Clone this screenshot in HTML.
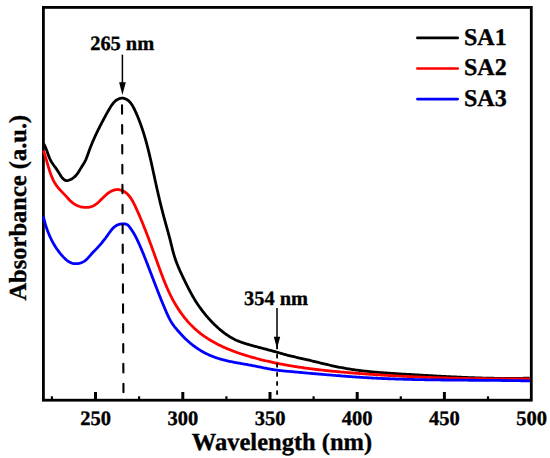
<!DOCTYPE html>
<html><head><meta charset="utf-8"><style>
html,body{margin:0;padding:0;background:#fff;}
svg{display:block;}
text{font-family:"Liberation Serif",serif;font-weight:bold;fill:#000;stroke:#000;stroke-width:0.35px;text-rendering:geometricPrecision;}
</style></head><body>
<svg width="550" height="458" viewBox="0 0 550 458">
<rect x="0" y="0" width="550" height="458" fill="#fff"/>
<!-- frame -->
<rect x="43.4" y="7.4" width="487.9" height="392.8" fill="none" stroke="#000" stroke-width="2.8"/>
<!-- curves -->
<path d="M43.40,143.50 L44.02,144.50 L44.60,145.53 L45.13,146.60 L45.62,147.69 L46.09,148.81 L46.53,149.95 L46.96,151.10 L47.38,152.27 L47.79,153.43 L48.20,154.59 L48.63,155.75 L49.07,156.90 L49.53,158.03 L50.02,159.14 L50.54,160.22 L51.11,161.27 L51.71,162.30 L52.35,163.30 L53.02,164.28 L53.71,165.25 L54.41,166.21 L55.12,167.17 L55.83,168.14 L56.53,169.13 L57.22,170.13 L57.89,171.15 L58.54,172.21 L59.17,173.27 L59.81,174.33 L60.46,175.38 L61.14,176.40 L61.85,177.37 L62.62,178.28 L63.46,179.11 L64.37,179.85 L65.37,180.40 L66.46,180.64 L67.62,180.54 L68.80,180.23 L69.95,179.80 L71.07,179.27 L72.14,178.66 L73.16,177.98 L74.12,177.23 L75.03,176.41 L75.86,175.54 L76.63,174.63 L77.36,173.68 L78.04,172.69 L78.69,171.69 L79.33,170.67 L79.96,169.64 L80.59,168.61 L81.23,167.59 L81.89,166.57 L82.54,165.55 L83.18,164.52 L83.80,163.49 L84.41,162.44 L84.97,161.38 L85.51,160.31 L86.00,159.21 L86.47,158.11 L86.91,156.99 L87.33,155.86 L87.74,154.73 L88.15,153.59 L88.54,152.45 L88.94,151.30 L89.35,150.17 L89.77,149.03 L90.20,147.90 L90.63,146.77 L91.07,145.65 L91.53,144.53 L91.98,143.41 L92.45,142.29 L92.93,141.18 L93.41,140.07 L93.90,138.97 L94.39,137.86 L94.89,136.76 L95.40,135.67 L95.91,134.57 L96.43,133.48 L96.95,132.39 L97.48,131.30 L98.01,130.22 L98.55,129.14 L99.09,128.06 L99.63,126.98 L100.18,125.90 L100.73,124.83 L101.28,123.76 L101.84,122.69 L102.39,121.62 L102.95,120.56 L103.51,119.50 L104.08,118.43 L104.64,117.37 L105.21,116.32 L105.79,115.26 L106.37,114.20 L106.95,113.15 L107.54,112.10 L108.14,111.05 L108.75,110.00 L109.37,108.95 L110.00,107.90 L110.64,106.86 L111.31,105.83 L111.99,104.82 L112.71,103.84 L113.47,102.90 L114.28,102.02 L115.14,101.19 L116.06,100.44 L117.04,99.77 L118.10,99.19 L119.23,98.71 L120.42,98.37 L121.63,98.20 L122.85,98.22 L124.06,98.43 L125.24,98.80 L126.37,99.31 L127.42,99.93 L128.40,100.65 L129.29,101.44 L130.12,102.31 L130.88,103.24 L131.59,104.22 L132.24,105.25 L132.86,106.31 L133.45,107.40 L134.01,108.50 L134.55,109.61 L135.08,110.72 L135.60,111.83 L136.10,112.94 L136.60,114.06 L137.08,115.18 L137.56,116.29 L138.02,117.41 L138.47,118.53 L138.92,119.66 L139.35,120.78 L139.78,121.91 L140.20,123.04 L140.61,124.17 L141.02,125.30 L141.42,126.44 L141.81,127.58 L142.20,128.72 L142.57,129.86 L142.95,131.00 L143.31,132.15 L143.68,133.30 L144.03,134.45 L144.38,135.60 L144.72,136.75 L145.06,137.91 L145.40,139.07 L145.73,140.23 L146.05,141.39 L146.37,142.55 L146.69,143.71 L147.00,144.88 L147.30,146.04 L147.61,147.21 L147.91,148.38 L148.20,149.55 L148.49,150.72 L148.78,151.89 L149.07,153.06 L149.35,154.24 L149.63,155.41 L149.90,156.59 L150.18,157.76 L150.45,158.94 L150.72,160.12 L150.99,161.30 L151.25,162.48 L151.52,163.66 L151.78,164.84 L152.04,166.02 L152.30,167.20 L152.56,168.38 L152.81,169.56 L153.07,170.74 L153.32,171.92 L153.58,173.11 L153.84,174.29 L154.09,175.47 L154.34,176.65 L154.60,177.83 L154.85,179.02 L155.11,180.20 L155.37,181.38 L155.62,182.56 L155.88,183.74 L156.14,184.92 L156.40,186.10 L156.66,187.28 L156.93,188.46 L157.19,189.63 L157.46,190.81 L157.73,191.99 L158.00,193.16 L158.27,194.34 L158.54,195.51 L158.82,196.69 L159.09,197.86 L159.37,199.04 L159.65,200.21 L159.93,201.38 L160.22,202.55 L160.50,203.72 L160.79,204.89 L161.08,206.06 L161.37,207.23 L161.67,208.40 L161.96,209.57 L162.26,210.74 L162.56,211.91 L162.86,213.08 L163.17,214.24 L163.47,215.41 L163.78,216.57 L164.09,217.74 L164.40,218.90 L164.72,220.07 L165.04,221.23 L165.35,222.40 L165.68,223.56 L166.00,224.72 L166.32,225.89 L166.65,227.05 L166.97,228.21 L167.30,229.38 L167.62,230.54 L167.95,231.70 L168.27,232.87 L168.59,234.04 L168.90,235.20 L169.21,236.37 L169.52,237.54 L169.83,238.71 L170.13,239.88 L170.42,241.06 L170.71,242.23 L171.00,243.41 L171.29,244.58 L171.57,245.76 L171.86,246.94 L172.15,248.11 L172.45,249.28 L172.75,250.45 L173.05,251.62 L173.37,252.79 L173.69,253.95 L174.03,255.11 L174.37,256.26 L174.73,257.41 L175.11,258.56 L175.50,259.70 L175.90,260.83 L176.31,261.96 L176.74,263.09 L177.18,264.21 L177.63,265.32 L178.09,266.44 L178.55,267.55 L179.03,268.66 L179.52,269.76 L180.01,270.86 L180.51,271.96 L181.01,273.06 L181.52,274.16 L182.04,275.25 L182.56,276.34 L183.08,277.44 L183.61,278.53 L184.13,279.62 L184.66,280.71 L185.19,281.80 L185.72,282.88 L186.26,283.97 L186.79,285.06 L187.33,286.14 L187.88,287.22 L188.43,288.30 L188.98,289.38 L189.54,290.45 L190.10,291.52 L190.67,292.58 L191.25,293.64 L191.83,294.70 L192.42,295.75 L193.02,296.80 L193.63,297.84 L194.25,298.88 L194.87,299.91 L195.51,300.93 L196.15,301.95 L196.81,302.96 L197.47,303.97 L198.14,304.97 L198.82,305.96 L199.51,306.95 L200.21,307.93 L200.92,308.90 L201.64,309.87 L202.36,310.83 L203.10,311.79 L203.84,312.73 L204.59,313.67 L205.35,314.61 L206.12,315.53 L206.90,316.45 L207.69,317.37 L208.49,318.27 L209.30,319.17 L210.11,320.06 L210.94,320.94 L211.77,321.82 L212.61,322.69 L213.46,323.55 L214.32,324.40 L215.19,325.24 L216.07,326.08 L216.96,326.90 L217.86,327.72 L218.76,328.53 L219.68,329.32 L220.60,330.11 L221.54,330.88 L222.48,331.63 L223.44,332.38 L224.40,333.10 L225.38,333.82 L226.36,334.51 L227.36,335.19 L228.37,335.85 L229.38,336.50 L230.41,337.12 L231.45,337.72 L232.50,338.31 L233.57,338.87 L234.64,339.41 L235.72,339.92 L236.82,340.42 L237.93,340.89 L239.04,341.35 L240.17,341.78 L241.30,342.20 L242.44,342.61 L243.58,343.00 L244.73,343.37 L245.89,343.74 L247.05,344.09 L248.21,344.44 L249.38,344.78 L250.55,345.11 L251.72,345.43 L252.88,345.75 L254.05,346.07 L255.22,346.39 L256.39,346.70 L257.56,347.01 L258.73,347.32 L259.90,347.63 L261.06,347.94 L262.23,348.25 L263.40,348.55 L264.56,348.86 L265.73,349.17 L266.90,349.47 L268.06,349.78 L269.23,350.09 L270.39,350.40 L271.55,350.72 L272.72,351.04 L273.88,351.35 L275.04,351.68 L276.21,352.00 L277.37,352.33 L278.53,352.67 L279.69,353.00 L280.85,353.34 L282.01,353.68 L283.17,354.01 L284.33,354.34 L285.50,354.67 L286.66,354.99 L287.83,355.30 L289.00,355.61 L290.17,355.90 L291.34,356.19 L292.51,356.46 L293.69,356.73 L294.86,356.99 L296.04,357.25 L297.22,357.51 L298.39,357.76 L299.57,358.02 L300.75,358.28 L301.92,358.55 L303.10,358.81 L304.28,359.08 L305.45,359.36 L306.63,359.63 L307.80,359.91 L308.98,360.19 L310.15,360.47 L311.33,360.76 L312.50,361.04 L313.67,361.33 L314.85,361.61 L316.02,361.90 L317.20,362.19 L318.37,362.47 L319.54,362.76 L320.72,363.04 L321.89,363.33 L323.07,363.61 L324.24,363.89 L325.42,364.17 L326.60,364.45 L327.77,364.72 L328.95,364.99 L330.13,365.26 L331.30,365.53 L332.48,365.79 L333.66,366.05 L334.84,366.30 L336.02,366.55 L337.20,366.80 L338.39,367.04 L339.57,367.27 L340.75,367.50 L341.94,367.73 L343.12,367.95 L344.31,368.16 L345.50,368.37 L346.69,368.57 L347.88,368.77 L349.07,368.96 L350.26,369.15 L351.45,369.33 L352.64,369.51 L353.83,369.68 L355.03,369.85 L356.22,370.02 L357.41,370.18 L358.61,370.34 L359.81,370.49 L361.00,370.64 L362.20,370.78 L363.40,370.92 L364.60,371.06 L365.80,371.20 L366.99,371.33 L368.19,371.45 L369.40,371.58 L370.60,371.70 L371.80,371.81 L373.00,371.93 L374.20,372.04 L375.40,372.15 L376.61,372.25 L377.81,372.36 L379.01,372.46 L380.22,372.56 L381.42,372.65 L382.63,372.75 L383.83,372.84 L385.04,372.93 L386.24,373.02 L387.45,373.10 L388.65,373.19 L389.86,373.27 L391.07,373.35 L392.27,373.43 L393.48,373.51 L394.69,373.58 L395.89,373.66 L397.10,373.74 L398.31,373.81 L399.51,373.88 L400.72,373.95 L401.93,374.03 L403.13,374.10 L404.34,374.17 L405.55,374.24 L406.76,374.31 L407.96,374.38 L409.17,374.45 L410.38,374.52 L411.58,374.59 L412.79,374.66 L413.99,374.73 L415.20,374.80 L416.41,374.87 L417.61,374.94 L418.82,375.01 L420.02,375.08 L421.23,375.15 L422.43,375.21 L423.64,375.28 L424.85,375.35 L426.05,375.42 L427.26,375.49 L428.46,375.56 L429.67,375.63 L430.87,375.70 L432.08,375.76 L433.28,375.83 L434.49,375.90 L435.69,375.96 L436.89,376.03 L438.10,376.10 L439.30,376.16 L440.51,376.23 L441.71,376.29 L442.92,376.36 L444.12,376.42 L445.33,376.48 L446.53,376.54 L447.73,376.61 L448.94,376.67 L450.14,376.73 L451.35,376.79 L452.55,376.85 L453.76,376.90 L454.96,376.96 L456.17,377.02 L457.37,377.07 L458.57,377.13 L459.78,377.18 L460.98,377.24 L462.19,377.29 L463.39,377.34 L464.60,377.39 L465.80,377.44 L467.01,377.49 L468.21,377.54 L469.42,377.59 L470.62,377.63 L471.82,377.68 L473.03,377.72 L474.23,377.76 L475.44,377.80 L476.64,377.84 L477.85,377.88 L479.06,377.92 L480.26,377.96 L481.47,377.99 L482.67,378.03 L483.88,378.06 L485.08,378.09 L486.29,378.12 L487.49,378.15 L488.70,378.18 L489.91,378.20 L491.11,378.23 L492.32,378.25 L493.53,378.27 L494.73,378.29 L495.94,378.31 L497.15,378.33 L498.35,378.35 L499.56,378.36 L500.77,378.37 L501.97,378.38 L503.18,378.39 L504.39,378.40 L505.60,378.40 L506.80,378.41 L508.01,378.41 L509.22,378.41 L510.43,378.41 L511.64,378.41 L512.85,378.40 L514.06,378.39 L515.26,378.39 L516.47,378.38 L517.68,378.36 L518.89,378.35 L520.10,378.33 L521.31,378.31 L522.52,378.29 L523.73,378.27 L524.94,378.25 L526.16,378.22 L527.37,378.19 L528.58,378.16 L529.79,378.13" fill="none" stroke="#000" stroke-width="2.8" stroke-linejoin="round" stroke-linecap="butt"/>
<path d="M43.37,150.52 L43.73,151.47 L44.07,152.43 L44.41,153.39 L44.73,154.37 L45.04,155.35 L45.35,156.33 L45.65,157.32 L45.95,158.32 L46.24,159.32 L46.53,160.32 L46.81,161.33 L47.10,162.34 L47.38,163.35 L47.67,164.36 L47.96,165.37 L48.25,166.38 L48.54,167.39 L48.84,168.40 L49.15,169.40 L49.46,170.40 L49.78,171.39 L50.11,172.38 L50.45,173.37 L50.81,174.35 L51.17,175.32 L51.55,176.28 L51.95,177.23 L52.36,178.18 L52.79,179.11 L53.23,180.04 L53.70,180.95 L54.18,181.85 L54.69,182.74 L55.21,183.61 L55.77,184.47 L56.34,185.32 L56.94,186.15 L57.57,186.96 L58.22,187.76 L58.88,188.55 L59.57,189.33 L60.26,190.10 L60.97,190.86 L61.69,191.62 L62.41,192.38 L63.13,193.13 L63.86,193.88 L64.58,194.64 L65.30,195.40 L66.01,196.16 L66.71,196.93 L67.40,197.70 L68.10,198.46 L68.79,199.22 L69.50,199.97 L70.23,200.70 L70.97,201.41 L71.74,202.10 L72.55,202.75 L73.39,203.36 L74.26,203.94 L75.17,204.48 L76.10,204.98 L77.06,205.43 L78.05,205.84 L79.05,206.21 L80.06,206.53 L81.09,206.80 L82.13,207.03 L83.17,207.20 L84.21,207.32 L85.26,207.39 L86.29,207.41 L87.32,207.37 L88.34,207.28 L89.34,207.13 L90.33,206.91 L91.29,206.64 L92.23,206.31 L93.14,205.91 L94.02,205.46 L94.88,204.95 L95.72,204.39 L96.54,203.79 L97.34,203.15 L98.13,202.48 L98.91,201.78 L99.69,201.05 L100.45,200.31 L101.22,199.55 L101.98,198.79 L102.75,198.02 L103.52,197.26 L104.30,196.50 L105.09,195.75 L105.89,195.02 L106.71,194.32 L107.55,193.64 L108.41,192.99 L109.29,192.38 L110.19,191.82 L111.11,191.30 L112.04,190.84 L112.99,190.43 L113.95,190.10 L114.92,189.83 L115.90,189.64 L116.88,189.54 L117.86,189.52 L118.85,189.59 L119.83,189.77 L120.80,190.02 L121.76,190.36 L122.70,190.77 L123.61,191.24 L124.48,191.76 L125.32,192.33 L126.12,192.94 L126.89,193.59 L127.62,194.27 L128.31,194.99 L128.98,195.74 L129.62,196.52 L130.23,197.33 L130.82,198.16 L131.38,199.02 L131.92,199.90 L132.45,200.80 L132.96,201.71 L133.45,202.63 L133.93,203.57 L134.39,204.52 L134.85,205.47 L135.30,206.43 L135.75,207.39 L136.19,208.36 L136.63,209.32 L137.06,210.28 L137.49,211.25 L137.92,212.21 L138.35,213.17 L138.77,214.14 L139.19,215.10 L139.61,216.07 L140.02,217.03 L140.43,218.00 L140.84,218.96 L141.24,219.93 L141.64,220.89 L142.04,221.86 L142.44,222.82 L142.83,223.79 L143.23,224.76 L143.61,225.72 L144.00,226.69 L144.39,227.66 L144.77,228.62 L145.15,229.59 L145.53,230.56 L145.91,231.52 L146.28,232.49 L146.66,233.46 L147.03,234.43 L147.40,235.40 L147.77,236.36 L148.13,237.33 L148.50,238.30 L148.86,239.27 L149.22,240.24 L149.59,241.21 L149.95,242.17 L150.30,243.14 L150.66,244.11 L151.02,245.08 L151.37,246.05 L151.73,247.02 L152.08,247.99 L152.44,248.96 L152.79,249.93 L153.14,250.90 L153.49,251.86 L153.84,252.83 L154.19,253.80 L154.54,254.77 L154.89,255.74 L155.24,256.71 L155.59,257.68 L155.94,258.65 L156.29,259.62 L156.64,260.59 L156.99,261.56 L157.33,262.53 L157.68,263.50 L158.03,264.47 L158.38,265.43 L158.73,266.40 L159.08,267.37 L159.43,268.34 L159.79,269.31 L160.14,270.28 L160.50,271.25 L160.85,272.21 L161.21,273.18 L161.57,274.15 L161.93,275.11 L162.30,276.08 L162.67,277.04 L163.04,278.00 L163.41,278.97 L163.79,279.93 L164.17,280.89 L164.55,281.84 L164.94,282.80 L165.33,283.76 L165.73,284.71 L166.13,285.66 L166.53,286.62 L166.94,287.57 L167.36,288.51 L167.78,289.46 L168.20,290.40 L168.63,291.34 L169.07,292.28 L169.51,293.22 L169.96,294.16 L170.42,295.09 L170.88,296.02 L171.35,296.95 L171.83,297.88 L172.31,298.80 L172.80,299.72 L173.30,300.64 L173.81,301.56 L174.32,302.47 L174.85,303.38 L175.38,304.28 L175.91,305.18 L176.46,306.08 L177.01,306.97 L177.57,307.86 L178.14,308.75 L178.72,309.63 L179.30,310.50 L179.89,311.37 L180.49,312.23 L181.10,313.09 L181.71,313.94 L182.33,314.79 L182.96,315.62 L183.60,316.46 L184.24,317.28 L184.89,318.10 L185.55,318.91 L186.22,319.72 L186.89,320.51 L187.58,321.30 L188.26,322.08 L188.96,322.85 L189.67,323.62 L190.38,324.37 L191.10,325.12 L191.82,325.85 L192.56,326.58 L193.30,327.30 L194.05,328.00 L194.80,328.70 L195.57,329.39 L196.34,330.07 L197.11,330.74 L197.90,331.40 L198.69,332.05 L199.48,332.69 L200.29,333.32 L201.10,333.94 L201.92,334.56 L202.74,335.16 L203.57,335.76 L204.40,336.35 L205.24,336.93 L206.09,337.50 L206.94,338.07 L207.80,338.62 L208.66,339.17 L209.53,339.71 L210.41,340.24 L211.29,340.77 L212.17,341.28 L213.06,341.79 L213.96,342.30 L214.85,342.79 L215.76,343.28 L216.67,343.76 L217.58,344.23 L218.50,344.70 L219.42,345.15 L220.34,345.61 L221.27,346.05 L222.21,346.49 L223.14,346.92 L224.09,347.35 L225.03,347.77 L225.98,348.18 L226.93,348.59 L227.88,348.99 L228.84,349.39 L229.80,349.78 L230.77,350.16 L231.73,350.54 L232.70,350.91 L233.68,351.28 L234.65,351.64 L235.63,352.00 L236.61,352.35 L237.59,352.70 L238.58,353.04 L239.56,353.38 L240.55,353.71 L241.54,354.04 L242.53,354.37 L243.53,354.68 L244.52,355.00 L245.52,355.31 L246.51,355.62 L247.51,355.92 L248.51,356.22 L249.51,356.51 L250.52,356.80 L251.52,357.09 L252.52,357.37 L253.53,357.65 L254.53,357.93 L255.54,358.20 L256.54,358.48 L257.55,358.74 L258.55,359.01 L259.56,359.27 L260.57,359.52 L261.58,359.78 L262.59,360.03 L263.60,360.27 L264.61,360.52 L265.62,360.76 L266.63,361.00 L267.64,361.23 L268.65,361.46 L269.66,361.69 L270.68,361.92 L271.69,362.14 L272.71,362.36 L273.72,362.58 L274.73,362.79 L275.75,363.01 L276.77,363.21 L277.78,363.42 L278.80,363.62 L279.82,363.82 L280.83,364.02 L281.85,364.22 L282.87,364.41 L283.89,364.60 L284.91,364.79 L285.93,364.97 L286.95,365.16 L287.97,365.34 L288.99,365.51 L290.01,365.69 L291.03,365.86 L292.05,366.03 L293.08,366.20 L294.10,366.37 L295.12,366.53 L296.15,366.69 L297.17,366.85 L298.19,367.01 L299.22,367.16 L300.24,367.32 L301.27,367.47 L302.29,367.62 L303.32,367.76 L304.35,367.91 L305.37,368.05 L306.40,368.19 L307.43,368.33 L308.45,368.47 L309.48,368.60 L310.51,368.74 L311.54,368.87 L312.56,369.00 L313.59,369.12 L314.62,369.25 L315.65,369.38 L316.68,369.50 L317.71,369.62 L318.74,369.74 L319.77,369.86 L320.80,369.97 L321.83,370.09 L322.86,370.20 L323.89,370.32 L324.92,370.43 L325.95,370.54 L326.98,370.64 L328.01,370.75 L329.04,370.86 L330.08,370.96 L331.11,371.06 L332.14,371.17 L333.17,371.27 L334.20,371.37 L335.24,371.46 L336.27,371.56 L337.30,371.66 L338.33,371.75 L339.37,371.85 L340.40,371.94 L341.43,372.03 L342.47,372.12 L343.50,372.21 L344.53,372.30 L345.57,372.39 L346.60,372.48 L347.63,372.57 L348.67,372.65 L349.70,372.74 L350.73,372.82 L351.77,372.91 L352.80,372.99 L353.83,373.07 L354.87,373.16 L355.90,373.24 L356.93,373.32 L357.97,373.40 L359.00,373.48 L360.04,373.56 L361.07,373.63 L362.10,373.71 L363.14,373.79 L364.17,373.87 L365.21,373.94 L366.24,374.02 L367.27,374.09 L368.31,374.16 L369.34,374.24 L370.38,374.31 L371.41,374.38 L372.45,374.45 L373.48,374.52 L374.51,374.59 L375.55,374.66 L376.58,374.73 L377.62,374.80 L378.65,374.87 L379.69,374.93 L380.72,375.00 L381.76,375.06 L382.79,375.13 L383.83,375.19 L384.86,375.26 L385.90,375.32 L386.93,375.38 L387.97,375.44 L389.00,375.50 L390.04,375.56 L391.07,375.62 L392.11,375.68 L393.14,375.74 L394.18,375.80 L395.21,375.86 L396.25,375.91 L397.28,375.97 L398.32,376.03 L399.35,376.08 L400.39,376.14 L401.42,376.19 L402.46,376.24 L403.49,376.30 L404.53,376.35 L405.56,376.40 L406.60,376.45 L407.63,376.50 L408.67,376.55 L409.70,376.60 L410.74,376.65 L411.78,376.70 L412.81,376.74 L413.85,376.79 L414.88,376.84 L415.92,376.88 L416.95,376.93 L417.99,376.97 L419.03,377.02 L420.06,377.06 L421.10,377.10 L422.13,377.15 L423.17,377.19 L424.20,377.23 L425.24,377.27 L426.28,377.31 L427.31,377.35 L428.35,377.39 L429.38,377.43 L430.42,377.47 L431.46,377.50 L432.49,377.54 L433.53,377.58 L434.56,377.61 L435.60,377.65 L436.64,377.68 L437.67,377.72 L438.71,377.75 L439.75,377.78 L440.78,377.82 L441.82,377.85 L442.85,377.88 L443.89,377.91 L444.93,377.94 L445.96,377.97 L447.00,378.00 L448.04,378.03 L449.07,378.06 L450.11,378.09 L451.15,378.12 L452.18,378.15 L453.22,378.17 L454.26,378.20 L455.29,378.22 L456.33,378.25 L457.37,378.27 L458.40,378.30 L459.44,378.32 L460.48,378.35 L461.51,378.37 L462.55,378.39 L463.59,378.41 L464.62,378.43 L465.66,378.45 L466.70,378.47 L467.73,378.49 L468.77,378.51 L469.81,378.53 L470.84,378.55 L471.88,378.57 L472.92,378.59 L473.95,378.60 L474.99,378.62 L476.03,378.64 L477.06,378.65 L478.10,378.67 L479.14,378.68 L480.18,378.70 L481.21,378.71 L482.25,378.73 L483.29,378.74 L484.32,378.75 L485.36,378.76 L486.40,378.78 L487.44,378.79 L488.47,378.80 L489.51,378.81 L490.55,378.82 L491.58,378.83 L492.62,378.84 L493.66,378.85 L494.70,378.85 L495.73,378.86 L496.77,378.87 L497.81,378.88 L498.84,378.88 L499.88,378.89 L500.92,378.90 L501.96,378.90 L502.99,378.91 L504.03,378.91 L505.07,378.91 L506.11,378.92 L507.14,378.92 L508.18,378.92 L509.22,378.93 L510.26,378.93 L511.29,378.93 L512.33,378.93 L513.37,378.93 L514.41,378.93 L515.44,378.93 L516.48,378.93 L517.52,378.93 L518.56,378.93 L519.59,378.93 L520.63,378.93 L521.67,378.93 L522.71,378.93 L523.74,378.92 L524.78,378.92 L525.82,378.92 L526.86,378.91 L527.89,378.91 L528.93,378.90 L529.97,378.90" fill="none" stroke="#ff0000" stroke-width="2.8" stroke-linejoin="round" stroke-linecap="butt"/>
<path d="M43.39,216.51 L43.61,217.49 L43.84,218.48 L44.08,219.46 L44.33,220.45 L44.58,221.43 L44.85,222.41 L45.13,223.39 L45.42,224.37 L45.72,225.35 L46.02,226.32 L46.34,227.29 L46.67,228.26 L47.00,229.23 L47.35,230.19 L47.71,231.15 L48.07,232.11 L48.45,233.06 L48.84,234.01 L49.24,234.95 L49.65,235.89 L50.06,236.82 L50.49,237.75 L50.93,238.68 L51.39,239.59 L51.85,240.51 L52.32,241.41 L52.80,242.31 L53.30,243.20 L53.80,244.09 L54.32,244.97 L54.85,245.84 L55.38,246.70 L55.93,247.55 L56.49,248.40 L57.07,249.24 L57.65,250.07 L58.25,250.89 L58.85,251.70 L59.47,252.51 L60.11,253.30 L60.75,254.09 L61.41,254.86 L62.09,255.63 L62.78,256.39 L63.48,257.15 L64.20,257.89 L64.94,258.62 L65.69,259.32 L66.47,260.00 L67.28,260.64 L68.11,261.24 L68.97,261.78 L69.86,262.27 L70.79,262.68 L71.75,263.03 L72.74,263.31 L73.74,263.52 L74.76,263.66 L75.79,263.72 L76.83,263.70 L77.86,263.61 L78.88,263.44 L79.89,263.20 L80.88,262.90 L81.85,262.53 L82.78,262.10 L83.68,261.61 L84.55,261.06 L85.36,260.46 L86.14,259.81 L86.89,259.13 L87.61,258.41 L88.31,257.66 L88.99,256.90 L89.66,256.13 L90.33,255.35 L91.01,254.57 L91.69,253.80 L92.38,253.05 L93.09,252.31 L93.81,251.57 L94.53,250.85 L95.24,250.12 L95.95,249.39 L96.66,248.65 L97.35,247.91 L98.04,247.16 L98.72,246.40 L99.39,245.64 L100.06,244.88 L100.72,244.11 L101.37,243.33 L102.01,242.54 L102.65,241.76 L103.29,240.96 L103.92,240.16 L104.54,239.36 L105.16,238.54 L105.78,237.73 L106.38,236.90 L106.99,236.08 L107.59,235.24 L108.19,234.40 L108.78,233.56 L109.38,232.71 L109.98,231.88 L110.59,231.05 L111.22,230.24 L111.86,229.46 L112.53,228.70 L113.22,227.98 L113.95,227.30 L114.72,226.66 L115.52,226.07 L116.37,225.55 L117.27,225.08 L118.22,224.68 L119.22,224.36 L120.24,224.10 L121.29,223.92 L122.34,223.82 L123.38,223.80 L124.41,223.85 L125.41,223.99 L126.35,224.25 L127.22,224.65 L128.00,225.22 L128.70,225.92 L129.35,226.72 L129.96,227.56 L130.57,228.41 L131.16,229.26 L131.75,230.11 L132.32,230.97 L132.88,231.83 L133.43,232.70 L133.96,233.57 L134.46,234.45 L134.95,235.34 L135.43,236.24 L135.89,237.14 L136.34,238.05 L136.79,238.96 L137.23,239.88 L137.66,240.79 L138.09,241.71 L138.52,242.64 L138.94,243.56 L139.35,244.49 L139.77,245.42 L140.18,246.35 L140.58,247.28 L140.99,248.22 L141.38,249.16 L141.78,250.10 L142.17,251.04 L142.57,251.98 L142.95,252.92 L143.34,253.87 L143.72,254.81 L144.10,255.76 L144.48,256.71 L144.86,257.66 L145.23,258.61 L145.61,259.56 L145.98,260.51 L146.35,261.46 L146.72,262.41 L147.09,263.37 L147.46,264.32 L147.82,265.27 L148.19,266.22 L148.55,267.17 L148.92,268.13 L149.29,269.08 L149.65,270.03 L150.01,270.98 L150.38,271.94 L150.74,272.89 L151.11,273.84 L151.47,274.79 L151.83,275.74 L152.20,276.69 L152.56,277.65 L152.92,278.60 L153.29,279.55 L153.65,280.50 L154.02,281.45 L154.38,282.40 L154.75,283.35 L155.11,284.30 L155.48,285.25 L155.84,286.20 L156.21,287.15 L156.58,288.10 L156.95,289.05 L157.32,290.00 L157.69,290.95 L158.06,291.89 L158.43,292.84 L158.81,293.79 L159.18,294.74 L159.56,295.68 L159.93,296.63 L160.31,297.58 L160.69,298.52 L161.07,299.47 L161.45,300.41 L161.84,301.36 L162.22,302.30 L162.61,303.25 L163.00,304.19 L163.39,305.14 L163.78,306.08 L164.18,307.02 L164.57,307.96 L164.97,308.91 L165.37,309.85 L165.77,310.79 L166.18,311.73 L166.59,312.66 L167.00,313.60 L167.42,314.53 L167.85,315.46 L168.29,316.38 L168.73,317.30 L169.19,318.21 L169.66,319.12 L170.15,320.01 L170.64,320.90 L171.16,321.78 L171.69,322.65 L172.24,323.50 L172.81,324.35 L173.39,325.18 L174.00,326.01 L174.63,326.82 L175.27,327.62 L175.92,328.41 L176.58,329.19 L177.25,329.97 L177.92,330.74 L178.59,331.51 L179.26,332.27 L179.94,333.03 L180.62,333.78 L181.30,334.53 L181.99,335.27 L182.68,336.01 L183.38,336.74 L184.09,337.46 L184.81,338.18 L185.53,338.89 L186.27,339.59 L187.01,340.28 L187.77,340.97 L188.53,341.64 L189.30,342.31 L190.08,342.97 L190.87,343.62 L191.67,344.27 L192.47,344.90 L193.28,345.52 L194.10,346.14 L194.93,346.75 L195.77,347.34 L196.61,347.93 L197.46,348.50 L198.32,349.07 L199.18,349.62 L200.05,350.16 L200.92,350.70 L201.81,351.22 L202.70,351.73 L203.59,352.23 L204.49,352.71 L205.40,353.19 L206.31,353.65 L207.22,354.10 L208.15,354.54 L209.07,354.96 L210.00,355.37 L210.94,355.77 L211.88,356.16 L212.82,356.53 L213.77,356.89 L214.72,357.24 L215.68,357.57 L216.64,357.90 L217.60,358.21 L218.57,358.52 L219.54,358.81 L220.51,359.10 L221.49,359.38 L222.47,359.64 L223.45,359.90 L224.43,360.15 L225.42,360.40 L226.41,360.63 L227.40,360.86 L228.40,361.09 L229.39,361.31 L230.39,361.52 L231.39,361.73 L232.39,361.93 L233.39,362.13 L234.40,362.32 L235.40,362.51 L236.41,362.70 L237.41,362.88 L238.42,363.06 L239.43,363.24 L240.44,363.42 L241.45,363.60 L242.45,363.78 L243.46,363.95 L244.47,364.13 L245.48,364.31 L246.49,364.48 L247.50,364.66 L248.50,364.84 L249.51,365.03 L250.52,365.21 L251.52,365.40 L252.52,365.59 L253.53,365.78 L254.53,365.98 L255.53,366.18 L256.53,366.38 L257.52,366.59 L258.52,366.79 L259.52,366.99 L260.51,367.20 L261.51,367.41 L262.51,367.61 L263.50,367.81 L264.50,368.01 L265.50,368.21 L266.49,368.41 L267.49,368.60 L268.49,368.79 L269.49,368.98 L270.49,369.16 L271.49,369.33 L272.49,369.50 L273.49,369.67 L274.50,369.83 L275.50,369.98 L276.51,370.12 L277.52,370.25 L278.53,370.38 L279.55,370.50 L280.56,370.62 L281.57,370.72 L282.59,370.83 L283.61,370.93 L284.62,371.02 L285.64,371.12 L286.66,371.21 L287.68,371.30 L288.69,371.39 L289.71,371.48 L290.73,371.57 L291.75,371.66 L292.76,371.75 L293.78,371.84 L294.79,371.94 L295.81,372.03 L296.82,372.12 L297.83,372.22 L298.85,372.31 L299.86,372.40 L300.88,372.50 L301.89,372.59 L302.91,372.68 L303.92,372.77 L304.94,372.86 L305.95,372.96 L306.97,373.05 L307.98,373.14 L309.00,373.22 L310.01,373.31 L311.03,373.40 L312.04,373.49 L313.06,373.58 L314.07,373.67 L315.09,373.75 L316.10,373.84 L317.12,373.93 L318.13,374.01 L319.15,374.10 L320.17,374.19 L321.18,374.27 L322.20,374.36 L323.21,374.44 L324.23,374.53 L325.24,374.61 L326.26,374.69 L327.28,374.78 L328.29,374.86 L329.31,374.95 L330.33,375.03 L331.34,375.11 L332.36,375.20 L333.37,375.28 L334.39,375.36 L335.41,375.44 L336.42,375.53 L337.44,375.61 L338.46,375.69 L339.47,375.77 L340.49,375.85 L341.50,375.93 L342.52,376.02 L343.54,376.10 L344.55,376.18 L345.57,376.26 L346.59,376.34 L347.60,376.41 L348.62,376.49 L349.64,376.57 L350.65,376.64 L351.67,376.72 L352.69,376.79 L353.70,376.86 L354.72,376.93 L355.74,377.00 L356.75,377.07 L357.77,377.14 L358.79,377.21 L359.81,377.27 L360.82,377.34 L361.84,377.40 L362.86,377.46 L363.88,377.53 L364.89,377.59 L365.91,377.65 L366.93,377.71 L367.94,377.76 L368.96,377.82 L369.98,377.88 L371.00,377.93 L372.02,377.99 L373.03,378.04 L374.05,378.09 L375.07,378.14 L376.09,378.19 L377.10,378.24 L378.12,378.29 L379.14,378.34 L380.16,378.39 L381.18,378.43 L382.20,378.48 L383.21,378.52 L384.23,378.56 L385.25,378.61 L386.27,378.65 L387.29,378.69 L388.30,378.73 L389.32,378.77 L390.34,378.81 L391.36,378.85 L392.38,378.89 L393.40,378.92 L394.42,378.96 L395.43,378.99 L396.45,379.03 L397.47,379.06 L398.49,379.09 L399.51,379.13 L400.53,379.16 L401.55,379.19 L402.57,379.22 L403.58,379.25 L404.60,379.28 L405.62,379.31 L406.64,379.34 L407.66,379.36 L408.68,379.39 L409.70,379.42 L410.72,379.44 L411.74,379.47 L412.75,379.49 L413.77,379.51 L414.79,379.54 L415.81,379.56 L416.83,379.58 L417.85,379.60 L418.87,379.63 L419.89,379.65 L420.91,379.67 L421.93,379.69 L422.95,379.71 L423.97,379.72 L424.99,379.74 L426.00,379.76 L427.02,379.78 L428.04,379.79 L429.06,379.81 L430.08,379.83 L431.10,379.84 L432.12,379.86 L433.14,379.87 L434.16,379.89 L435.18,379.90 L436.20,379.92 L437.22,379.93 L438.24,379.94 L439.26,379.96 L440.28,379.97 L441.30,379.98 L442.32,379.99 L443.34,380.00 L444.35,380.02 L445.37,380.03 L446.39,380.04 L447.41,380.05 L448.43,380.06 L449.45,380.07 L450.47,380.08 L451.49,380.09 L452.51,380.10 L453.53,380.11 L454.55,380.12 L455.57,380.12 L456.59,380.13 L457.61,380.14 L458.63,380.15 L459.65,380.16 L460.67,380.17 L461.69,380.17 L462.71,380.18 L463.73,380.19 L464.75,380.20 L465.77,380.20 L466.79,380.21 L467.81,380.22 L468.83,380.23 L469.85,380.23 L470.87,380.24 L471.88,380.25 L472.90,380.26 L473.92,380.26 L474.94,380.27 L475.96,380.28 L476.98,380.28 L478.00,380.29 L479.02,380.30 L480.04,380.31 L481.06,380.31 L482.08,380.32 L483.10,380.33 L484.12,380.33 L485.14,380.34 L486.16,380.35 L487.18,380.36 L488.20,380.37 L489.22,380.37 L490.24,380.38 L491.26,380.39 L492.28,380.40 L493.29,380.41 L494.31,380.42 L495.33,380.42 L496.35,380.43 L497.37,380.44 L498.39,380.45 L499.41,380.46 L500.43,380.47 L501.45,380.48 L502.47,380.49 L503.49,380.50 L504.51,380.51 L505.53,380.52 L506.55,380.53 L507.57,380.55 L508.58,380.56 L509.60,380.57 L510.62,380.58 L511.64,380.60 L512.66,380.61 L513.68,380.62 L514.70,380.64 L515.72,380.65 L516.74,380.66 L517.76,380.68 L518.77,380.69 L519.79,380.71 L520.81,380.73 L521.83,380.74 L522.85,380.76 L523.87,380.78 L524.89,380.79 L525.91,380.81 L526.92,380.83 L527.94,380.85 L528.96,380.87 L529.98,380.89" fill="none" stroke="#0000ff" stroke-width="2.8" stroke-linejoin="round" stroke-linecap="butt"/>
<!-- dashed guide lines -->
<line x1="122.0" y1="98" x2="123.5" y2="398" stroke="#000" stroke-width="2.1" stroke-linecap="round" stroke-dasharray="8.5 11.4" stroke-dashoffset="-7.2"/>
<line x1="277.1" y1="345" x2="277.1" y2="398" stroke="#000" stroke-width="1.8" stroke-linecap="round" stroke-dasharray="3.0 6.1" stroke-dashoffset="-9.7"/>
<line x1="51.9" y1="396.3" x2="51.9" y2="399" stroke="#000" stroke-width="2.2"/><line x1="95.5" y1="392" x2="95.5" y2="399" stroke="#000" stroke-width="3"/><line x1="139.1" y1="396.3" x2="139.1" y2="399" stroke="#000" stroke-width="2.2"/><line x1="182.8" y1="392" x2="182.8" y2="399" stroke="#000" stroke-width="3"/><line x1="226.4" y1="396.3" x2="226.4" y2="399" stroke="#000" stroke-width="2.2"/><line x1="270.0" y1="392" x2="270.0" y2="399" stroke="#000" stroke-width="3"/><line x1="313.6" y1="396.3" x2="313.6" y2="399" stroke="#000" stroke-width="2.2"/><line x1="357.2" y1="392" x2="357.2" y2="399" stroke="#000" stroke-width="3"/><line x1="400.8" y1="396.3" x2="400.8" y2="399" stroke="#000" stroke-width="2.2"/><line x1="444.4" y1="392" x2="444.4" y2="399" stroke="#000" stroke-width="3"/><line x1="488.0" y1="396.3" x2="488.0" y2="399" stroke="#000" stroke-width="2.2"/>
<text x="95.5" y="424.7" text-anchor="middle" font-size="20.5">250</text><text x="182.8" y="424.7" text-anchor="middle" font-size="20.5">300</text><text x="270.0" y="424.7" text-anchor="middle" font-size="20.5">350</text><text x="357.2" y="424.7" text-anchor="middle" font-size="20.5">400</text><text x="444.4" y="424.7" text-anchor="middle" font-size="20.5">450</text><text x="531.7" y="424.7" text-anchor="middle" font-size="20.5">500</text>
<text x="282" y="449.6" text-anchor="middle" font-size="24.5">Wavelength (nm)</text>
<text transform="translate(26,207.7) rotate(-90)" text-anchor="middle" font-size="24.5">Absorbance (a.u.)</text>
<!-- annotations -->
<text x="122.2" y="50.1" text-anchor="middle" font-size="20.4">265 nm</text>
<line x1="122.4" y1="54.6" x2="122.4" y2="84" stroke="#000" stroke-width="1.5"/>
<path d="M119.1,82.2 L125.8,82.2 L122.4,95 Z" fill="#000"/>
<text x="276" y="304.7" text-anchor="middle" font-size="20.4">354 nm</text>
<line x1="277.0" y1="307.9" x2="277.0" y2="338" stroke="#000" stroke-width="1.5"/>
<path d="M273.8,336.7 L280.2,336.7 L277.0,348.7 Z" fill="#000"/>
<!-- legend -->
<line x1="417.4" y1="37.9" x2="457.7" y2="37.9" stroke="#000" stroke-width="2.7" stroke-linecap="round"/>
<line x1="417.4" y1="68.5" x2="457.7" y2="68.5" stroke="#ff0000" stroke-width="2.7" stroke-linecap="round"/>
<line x1="417.4" y1="99.1" x2="457.7" y2="99.1" stroke="#0000ff" stroke-width="2.7" stroke-linecap="round"/>
<text x="464" y="44.6" font-size="24">SA1</text>
<text x="464" y="75.4" font-size="24">SA2</text>
<text x="464" y="106.3" font-size="24">SA3</text>
</svg>
</body></html>
